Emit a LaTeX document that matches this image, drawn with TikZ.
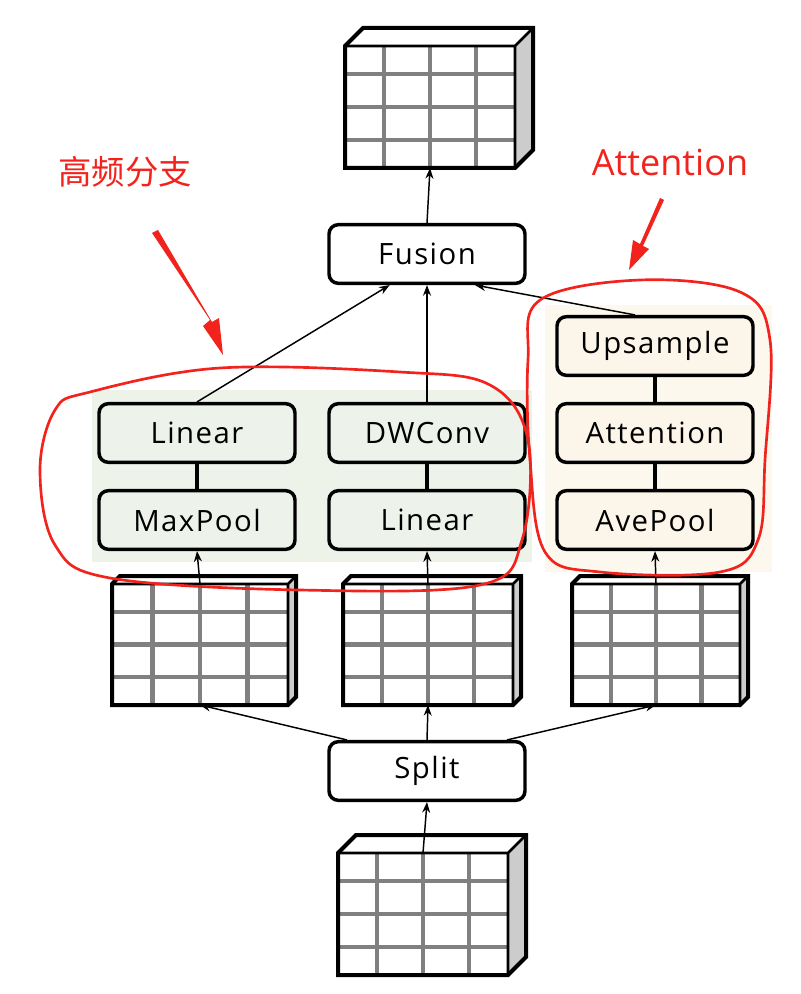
\documentclass[tikz,border=0pt]{standalone}
\usepackage{fontspec}
\setmainfont{Open Sans}
\newfontfamily\cjk{Noto Sans CJK SC}
\usetikzlibrary{arrows.meta}
\definecolor{gbg}{HTML}{EEF3EA}
\definecolor{obg}{HTML}{FDF8EE}
\definecolor{gbox}{HTML}{EDF3EA}
\definecolor{obox}{HTML}{FCF5EA}
\definecolor{ann}{HTML}{F2231C}
\tikzset{
 blk/.style={draw=black,line width=2.6pt,rounded corners=7pt,minimum width=147pt,minimum height=44pt,inner sep=0pt,font=\fontsize{22}{24}\selectfont\addfontfeatures{LetterSpace=5}},
 arr/.style={-{Stealth[length=8pt,width=6pt]},line width=1.1pt},
 lnk/.style={line width=2.6pt},
 redl/.style={draw=ann,line width=2pt},
}
\newcommand\mycube[6]{%
 \begin{scope}[shift={(#2,#3)}]
  \fill[gray!40] (#4,0) -- (#4+#6,-#6) -- (#4+#6,#5-#6) -- (#4,#5) -- cycle;
  \fill[white] (0,0) -- (#6,-#6) -- (#4+#6,-#6) -- (#4,0) -- cycle;
  \fill[white] (0,0) rectangle (#4,#5);
  \foreach \f in {0.23,0.5,0.77}{
   \draw[gray,line width=3.2pt] (\f*#4,0) -- (\f*#4,#5);
   \draw[gray,line width=3.2pt] (0,\f*#5) -- (#4,\f*#5);}
  \draw[line width=3pt,line join=miter] (0,0) -- (#6,-#6) -- (#4+#6,-#6) -- (#4+#6,#5-#6) -- (#4,#5) -- (0,#5) -- cycle;
  \draw[line width=2pt] (0,0) -- (#4,0) -- (#4,#5) (#4,0) -- (#4+#6,-#6);
  \coordinate (#1-t) at (0.5*#4,0);
  \coordinate (#1-b) at (0.5*#4,#5);
 \end{scope}}
\begin{document}
\begin{tikzpicture}[x=0.75pt,y=-0.75pt]
\useasboundingbox (0,0) rectangle (800,994);
% backgrounds
\fill[gbg] (92,390) rectangle (532,562);
\fill[obg] (545,305) rectangle (772,572);
% cubes
\mycube{ct}{345}{46}{170}{122}{18}
\mycube{c1}{112}{584}{176}{121}{8}
\mycube{c2}{343}{584}{170}{121}{8}
\mycube{c3}{572}{584}{168}{121}{8}
\mycube{cb}{338}{853}{170}{122}{18}
% boxes
\node[blk,fill=white] (fus) at (427,254) {Fusion};
\node[blk,fill=white] (spl) at (427,771) {Split};
\node[blk,fill=gbox] (lin1) at (197,433) {Linear};
\node[blk,fill=gbox] (mxp) at (197,520) {MaxPool};
\node[blk,fill=gbox] (dwc) at (427,433) {DWConv};
\node[blk,fill=gbox] (lin2) at (427,520) {Linear};
\node[blk,fill=obox] (ups) at (655,346) {Upsample};
\node[blk,fill=obox] (att) at (655,433) {Attention};
\node[blk,fill=obox] (avp) at (655,520) {AvePool};
\draw[lnk] (lin1) -- (mxp);
\draw[lnk] (dwc) -- (lin2);
\draw[lnk] (ups) -- (att);
\draw[lnk] (att) -- (avp);
% arrows
\draw[arr] (cb-t) -- (spl.south);
\draw[arr] (spl.north) -- (c2-b);
\draw[arr] ([xshift=-60pt]spl.north) -- (c1-b);
\draw[arr] ([xshift=60pt]spl.north) -- (c3-b);
\draw[arr] (c1-t) -- (mxp.south);
\draw[arr] (c2-t) -- (lin2.south);
\draw[arr] (c3-t) -- (avp.south);
\draw[arr] (lin1.north) -- ([xshift=-28pt]fus.south);
\draw[arr] (dwc.north) -- (fus.south);
\draw[arr] ([xshift=-15pt]ups.north) -- ([xshift=36pt]fus.south);
\draw[arr] (fus.north) -- (ct-b);
% annotations
\node[text=ann,font=\cjk\fontsize{25}{27}\selectfont] (t1) at (125,172) {高频分支};
\node[text=ann,font=\fontsize{27}{29}\selectfont] (t2) at (670,162) {Attention};
\fill[ann] (152,233) -- (210,320) -- (203,326) -- (223,355) -- (219,318) -- (212,322) -- (158,230) -- cycle;
\fill[ann] (660,198) -- (640,244) -- (633,240) -- (629,270) -- (649,249) -- (643,246) -- (664,200) -- cycle;
\draw[redl] plot[smooth cycle,tension=0.6] coordinates {(90,392) (220,368) (400,372) (490,385) (528,440) (522,540) (480,585) (300,590) (110,578) (55,545) (40,470) (55,410)};
\draw[redl] plot[smooth cycle,tension=0.6] coordinates {(540,300) (640,280) (740,292) (770,340) (765,460) (758,540) (720,572) (600,572) (545,552) (530,460) (528,360)};
\end{tikzpicture}
\end{document}
